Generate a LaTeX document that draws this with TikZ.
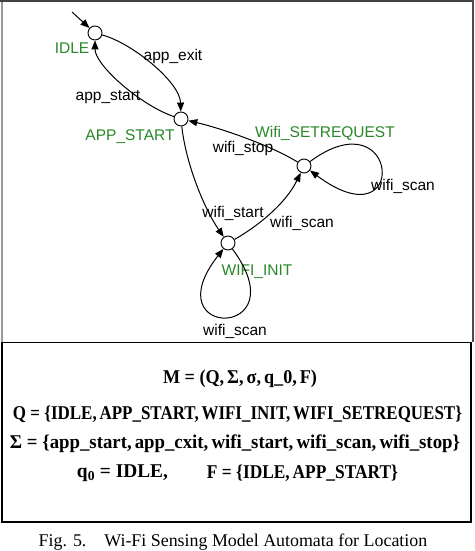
\documentclass[tikz,border=0pt]{standalone}
\usepackage{fontspec}
\setmainfont{Liberation Serif}
\newfontfamily\diagfont{Liberation Sans}
\usetikzlibrary{arrows.meta}
\definecolor{stategreen}{RGB}{40,135,40}
\newcommand{\fitw}[2]{\resizebox{#1}{\height}{#2}}
\begin{document}
\begin{tikzpicture}[x=1pt,y=-1pt,
  state/.style={circle,draw,fill=white,minimum size=14pt,inner sep=0pt,line width=0.9pt},
  slabel/.style={text=stategreen,font=\diagfont\fontsize{15.5}{18}\selectfont,inner sep=0pt},
  elabel/.style={font=\diagfont\fontsize{15.5}{18}\selectfont,inner sep=0pt},
  edge/.style={line width=1pt,-{Triangle[length=9pt,width=7pt]}},
  formula/.style={font=\bfseries\fontsize{19.5}{22}\selectfont,inner sep=0pt},
  caption/.style={font=\fontsize{17.9}{20}\selectfont,inner sep=0pt},
]
\useasboundingbox (0,0) rectangle (474,551);
% frame
\draw[line width=2pt, color=black!40] (1.5,0) -- (1.5,342);
\draw[line width=2.5pt, color=black!75] (0,1.2) -- (474,1.2);
\draw[line width=2pt, color=black!70] (472.5,0) -- (472.5,342);
\draw[line width=1.5pt] (2,342.5) rectangle (471,522);
% states
\node[state] (idle) at (95,33) {};
\node[state] (app) at (181,119) {};
\node[state] (set) at (304,166) {};
\node[state] (init) at (228,243) {};
\coordinate (start) at (72,12);
% state labels
\node[slabel] (lidle) at (72,48) {IDLE};
\node[slabel] (lapp) at (130,137) {APP\_START};
\node[slabel] (lset) at (325,133) {Wifi\_SETREQUEST};
\node[slabel] (linit) at (257,272) {WIFI\_INIT};
% edges
\draw[edge] (start) -- (idle);
\draw[edge] (idle) .. controls (132,43) and (180,82) .. (app);
\draw[edge] (app) .. controls (140,105) and (95,65) .. (idle);
\draw[edge] (app) .. controls (186,165) and (205,210) .. (init);
\draw[edge] (init) .. controls (255,228) and (285,205) .. (set);
\draw[edge] (set) .. controls (270,145) and (220,128) .. (app);
\draw[edge] (set) .. controls (400,95) and (410,245) .. (set);
\draw[edge] (init) .. controls (300,340) and (152,340) .. (init);
% edge labels
\node[elabel] (e1) at (173,56) {app\_exit};
\node[elabel] (e2) at (108,97) {app\_start};
\node[elabel] (e3) at (243,148) {wifi\_stop};
\node[elabel] (e4) at (403,186) {wifi\_scan};
\node[elabel] (e5) at (233,213) {wifi\_start};
\node[elabel] (e6) at (302,223) {wifi\_scan};
\node[elabel] (e7) at (235,331) {wifi\_scan};
% formulas
\node[formula] (f1) at (240,379) {\fitw{154pt}{M = (Q,\,Σ,\,σ,\,q\_0,\,F)}};
\node[formula] (f2) at (237.5,414) {\fitw{449pt}{Q = \{IDLE,\,APP\_START,\,WIFI\_INIT,\,WIFI\_SETREQUEST\}}};
\node[formula] (f3) at (235,444) {\fitw{450pt}{Σ = \{app\_start,\,app\_cxit,\,wifi\_start,\,wifi\_scan,\,wifi\_stop\}}};
\node[formula] (f4) at (122.5,473) {\fitw{91pt}{q\textsubscript{0} = IDLE,}};
\node[formula] (f5) at (302.5,473) {\fitw{191pt}{F = \{IDLE,\,APP\_START\}}};
\node[caption] (cap) at (233,542) {Fig. 5.\quad Wi-Fi Sensing Model Automata for Location};
\end{tikzpicture}
\end{document}
